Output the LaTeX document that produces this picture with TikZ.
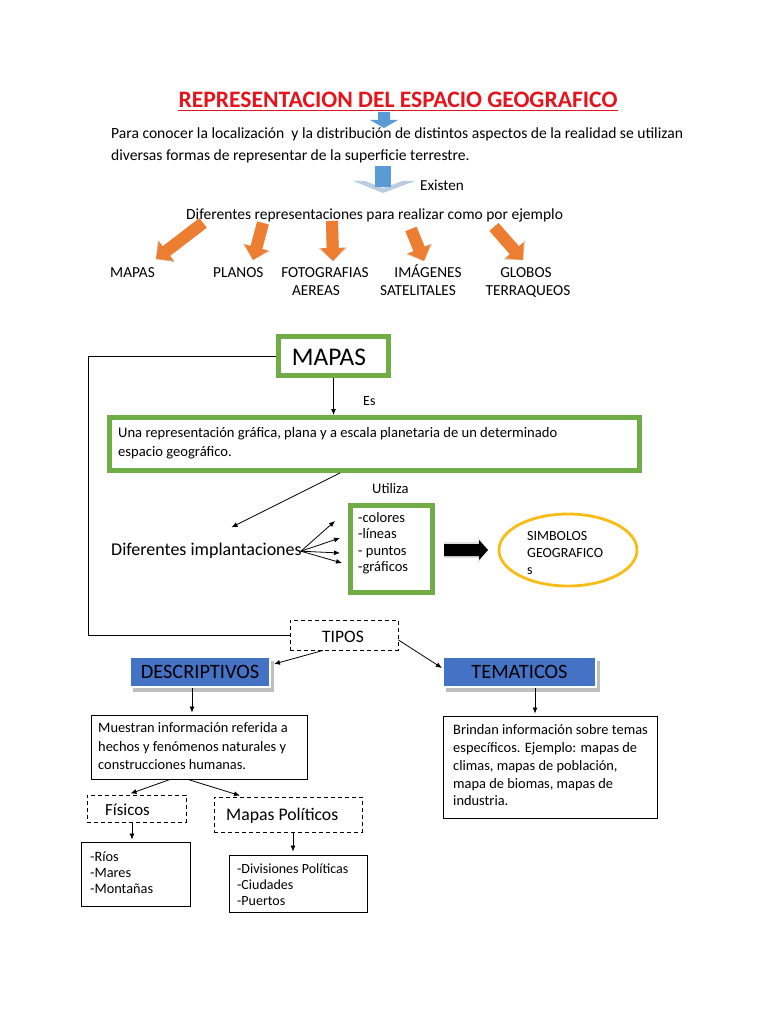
\documentclass[tikz,border=0pt]{standalone}
\usepackage{fontspec}
\setmainfont{Carlito}
\usetikzlibrary{calc,shapes.geometric,arrows.meta}
\definecolor{tred}{HTML}{E5141C}
\definecolor{gbox}{HTML}{70AD47}
\definecolor{bbox}{HTML}{4472C4}
\definecolor{oarr}{HTML}{ED7D31}
\definecolor{oshad}{HTML}{D9BBA0}
\definecolor{yel}{HTML}{F9BC14}
\definecolor{lblue}{HTML}{5B9BD5}
\definecolor{pblue}{HTML}{B9CCE0}
\newcommand{\fsz}[1]{\fontsize{#1}{#1}\selectfont}
% block arrow: #1 tail coord, #2 tip coord, #3 half shaft, #4 half head, #5 head length, #6 fill
\newcommand{\blockarr}[6]{%
  \fill[#6] ($(#1)!#3!90:(#2)$) -- ($($(#2)!#5!(#1)$)!#3!-90:(#1)$) --
    ($($(#2)!#5!(#1)$)!#4!-90:(#1)$) -- (#2) --
    ($($(#2)!#5!(#1)$)!#4!90:(#1)$) -- ($($(#2)!#5!(#1)$)!#3!90:(#1)$) --
    ($(#1)!#3!-90:(#2)$) -- cycle;}
\begin{document}
\begin{tikzpicture}[x=1pt,y=-1pt,
  txt/.style={inner sep=0pt, anchor=base west, font=\fsz{15.6}},
  ctxt/.style={inner sep=0pt, anchor=base, font=\fsz{15.3}},
  greenbox/.style={draw=gbox, line width=5pt, inner sep=0pt},
  plainbox/.style={draw=black, line width=0.9pt, inner sep=0pt},
  dashbox/.style={draw=black, line width=0.9pt, dashed, dash pattern=on 4pt off 3pt, inner sep=0pt},
  bluebox/.style={fill=bbox, draw=white, line width=2pt, inner sep=0pt, font=\fsz{20.4}},
  arr/.style={-{Latex[length=6pt,width=5pt]}, line width=0.8pt},
  ln/.style={line width=0.8pt}]
\useasboundingbox (0,0) rectangle (768,1024);
\fill[white] (0,0) rectangle (768,1024);

% title
\node[inner sep=0pt, anchor=base, font=\fsz{23.6}\bfseries, text=tred] (title) at (398,108) {REPRESENTACION DEL ESPACIO GEOGRAFICO};
\draw[tred, line width=1.3pt] ([yshift=-2.5pt]title.base west) -- ([yshift=-2.5pt]title.base east);

% small blue arrow
\coordinate (ba1) at (384,112);
\coordinate (ba2) at (384,128);
\blockarr{ba1}{ba2}{6pt}{14pt}{8pt}{lblue}

\node[txt] (p1) at (111,139) {Para conocer la localización \ y la distribución de distintos aspectos de la realidad se utilizan};
\node[txt] (p2) at (111,161) {diversas formas de representar de la superficie terrestre.};

% big blue arrow with chevron
\fill[pblue] (353,181) -- (383,193) -- (415,181) -- (403,181) -- (383,188) -- (365,181) -- cycle;
\fill[lblue] (375,166) rectangle (391,187);
\node[txt, font=\fsz{15.2}] (exist) at (420,191) {Existen};

\node[txt, font=\fsz{15.5}] (difrep) at (186,219) {Diferentes representaciones para realizar como por ejemplo};

% orange arrows
\coordinate (o1a) at (203,223); \coordinate (o1b) at (156,259);
\coordinate (o2a) at (263,223); \coordinate (o2b) at (253,260);
\coordinate (o3a) at (332,221); \coordinate (o3b) at (333,261);
\coordinate (o4a) at (411,229); \coordinate (o4b) at (424,261);
\coordinate (o5a) at (494,227); \coordinate (o5b) at (523,260);
\foreach \a/\b in {o1a/o1b,o2a/o2b,o3a/o3b,o4a/o4b,o5a/o5b}{
  \begin{scope}[shift={(2,4)}]\blockarr{\a}{\b}{6pt}{14pt}{13pt}{oshad}\end{scope}
  \blockarr{\a}{\b}{6pt}{12pt}{13pt}{oarr}
}

\node[txt, font=\fsz{15.3}] (lmapas) at (110,277) {MAPAS};
\node[txt, font=\fsz{15.3}] (lplanos) at (213,277) {PLANOS};
\node[ctxt] (lfoto) at (325,277) {FOTOGRAFIAS};
\node[ctxt] (lfoto2) at (316,295) {AEREAS};
\node[ctxt] (limg) at (428,277) {IMÁGENES};
\node[ctxt] (limg2) at (418,295) {SATELITALES};
\node[ctxt] (lglob) at (526,277) {GLOBOS};
\node[ctxt] (lglob2) at (528,295) {TERRAQUEOS};

% MAPAS box
\node[greenbox, minimum width=110pt, minimum height=39pt] (mapas) at (333.5,356) {};
\node[inner sep=0pt, anchor=base, font=\fsz{25.4}] (mapastxt) at (329,365) {MAPAS};

% definition box
\node[greenbox, minimum width=530pt, minimum height=53pt] (def) at (374.5,444) {};
\node[txt, font=\fsz{14.6}] (d1) at (118,437) {Una representación gráfica, plana y a escala planetaria de un determinado};
\node[txt, font=\fsz{14.6}] (d2) at (118,456) {espacio geográfico.};
\node[txt, font=\fsz{14}] (es) at (363,405) {Es};
\draw[arr] (mapas.south) -- (mapas.south |- def.north);

% left frame line
\coordinate (fr1) at (88,356);
\coordinate (fr2) at (88,637);

% implantaciones
\node[inner sep=1pt, anchor=base west, font=\fsz{18}] (impl) at (110,555) {Diferentes implantaciones};
\node[txt, font=\fsz{14.5}] (util) at (372,493) {Utiliza};
\draw[arr] ([xshift=-34.5pt]def.south) -- ([xshift=25pt,yshift=14pt]impl.north);

% colores box
\node[greenbox, minimum width=82pt, minimum height=87pt] (col) at (391.5,549) {};
\node[txt, font=\fsz{14.5}] (c1) at (358,522) {-colores};
\node[txt, font=\fsz{14.5}] (c2) at (358,538) {-líneas};
\node[txt, font=\fsz{14.5}] (c3) at (358,555) {- puntos};
\node[txt, font=\fsz{14.5}] (c4) at (358,571) {-gráficos};
\foreach \dx/\dy in {-13/28,-8/11,-8/-4,-6/-14}{
  \draw[arr] ([xshift=-2pt,yshift=-1pt]impl.east) -- ([xshift=\dx pt,yshift=\dy pt]col.west);
}

% ellipse
\node[ellipse, draw=yel, line width=2.8pt, minimum width=138pt, minimum height=72pt, inner sep=0pt] (simb) at (568,550) {};
\node[txt, font=\fsz{14}] (s1) at (527,540) {SIMBOLOS};
\node[txt, font=\fsz{14}] (s2) at (527,557) {GEOGRAFICO};
\node[txt, font=\fsz{14}] (s3) at (527,574) {s};

% black block arrow with shadow
\coordinate (bk1) at (444,550);
\coordinate (bk2) at (488,550);
\begin{scope}[shift={(5,3)}]
\blockarr{bk1}{bk2}{8pt}{13pt}{10pt}{black!12}
\end{scope}
\blockarr{bk1}{bk2}{6pt}{10pt}{9pt}{black}

% TIPOS
\node[dashbox, minimum width=108pt, minimum height=30pt] (tipos) at (344,635) {};
\node[inner sep=0pt, anchor=base, font=\fsz{17.5}] (tipostxt) at (343,642) {TIPOS};
\draw[ln] (mapas.west) -- (mapas.west -| fr1) -- (fr2 |- tipos.west) -- (tipos.west);

% blue boxes
\fill[black!25] (133,661) rectangle (274,692);
\node[bluebox, minimum width=140pt, minimum height=30pt] (desc) at (200,672) {DESCRIPTIVOS};
\fill[black!25] (446,661) rectangle (600,692);
\node[bluebox, minimum width=153pt, minimum height=30pt] (tem) at (519.5,672) {TEMATICOS};
\draw[arr] ([xshift=-21pt]tipos.south) -- ([xshift=3pt,yshift=8pt]desc.east);
\draw[arr] ([yshift=-5pt]tipos.east) -- ([yshift=4pt]tem.west);

% Muestran box
\node[plainbox, minimum width=216pt, minimum height=64pt] (mues) at (199,747) {};
\node[txt, font=\fsz{14.4}] (m1) at (98,732) {Muestran información referida a};
\node[txt, font=\fsz{14.4}] (m2) at (98,751) {hechos y fenómenos naturales y};
\node[txt, font=\fsz{14.4}] (m3) at (98,769) {construcciones humanas.};
\draw[arr] ([xshift=-8pt]desc.south) -- ([xshift=-7pt,yshift=2pt]mues.north);

% Brindan box
\node[plainbox, minimum width=214pt, minimum height=102pt] (brin) at (550,767) {};
\node[txt, font=\fsz{14.4}] (b1) at (453,734) {Brindan información sobre temas};
\node[txt, font=\fsz{14.4}] (b2) at (453,752) {específicos. Ejemplo: mapas de};
\node[txt, font=\fsz{14.4}] (b3) at (453,770) {climas, mapas de población,};
\node[txt, font=\fsz{14.4}] (b4) at (453,788) {mapa de biomas, mapas de};
\node[txt, font=\fsz{14.4}] (b5) at (453,805) {industria.};
\draw[arr] ([xshift=15.5pt]tem.south) -- ([xshift=-15pt,yshift=2pt]brin.north);

% Fisicos / Mapas politicos
\node[dashbox, minimum width=99pt, minimum height=27pt] (fis) at (136.5,808.5) {};
\node[txt, font=\fsz{16.9}] (fistxt) at (105,815) {Físicos};
\node[dashbox, minimum width=148pt, minimum height=35pt] (mp) at (288,814.5) {};
\node[txt, font=\fsz{17.7}] (mptxt) at (226,820) {Mapas Políticos};
\draw[arr] ([xshift=-29pt]mues.south) -- ([xshift=-6pt,yshift=1pt]fis.north);
\draw[arr] ([xshift=-11pt]mues.south) -- ([xshift=-48pt,yshift=1pt]mp.north);

% Rios box
\node[plainbox, minimum width=109pt, minimum height=64pt] (rios) at (135.5,874) {};
\node[txt, font=\fsz{14.3}] (r1) at (90,861) {-Ríos};
\node[txt, font=\fsz{14.3}] (r2) at (90,877) {-Mares};
\node[txt, font=\fsz{14.3}] (r3) at (90,893) {-Montañas};
\draw[arr] ([xshift=-4.5pt]fis.south) -- ([xshift=-3.5pt,yshift=2pt]rios.north);

% Divisiones box
\node[plainbox, minimum width=138pt, minimum height=57pt] (div) at (298,883.5) {};
\node[txt, font=\fsz{14}] (v1) at (237,873) {-Divisiones Políticas};
\node[txt, font=\fsz{14}] (v2) at (237,889) {-Ciudades};
\node[txt, font=\fsz{14}] (v3) at (237,905) {-Puertos};
\draw[arr] ([xshift=5pt]mp.south) -- ([xshift=-5pt,yshift=3pt]div.north);
\end{tikzpicture}
\end{document}
